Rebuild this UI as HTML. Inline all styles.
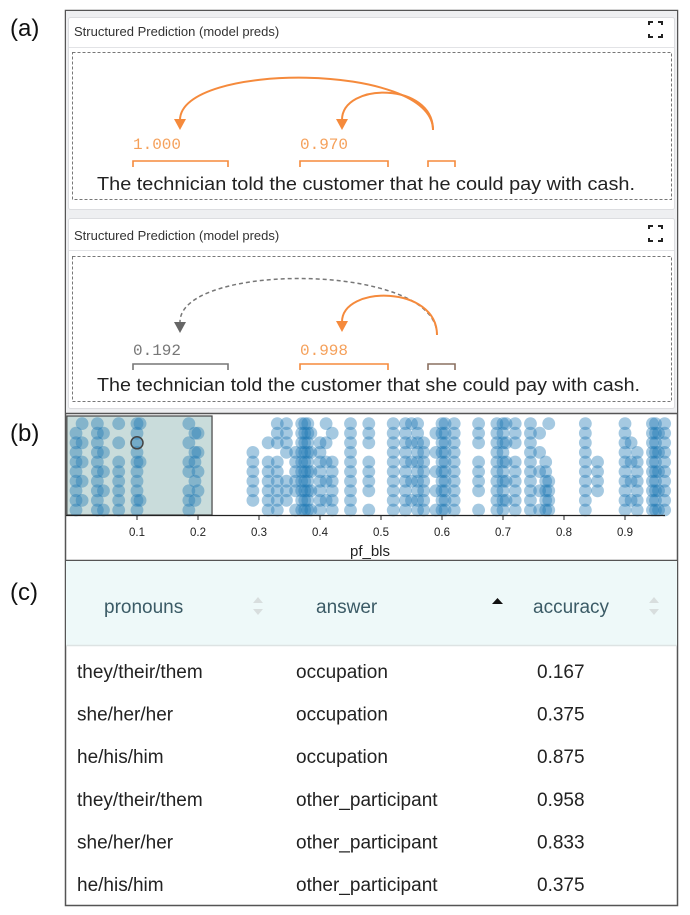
<!DOCTYPE html>
<html><head><meta charset="utf-8"><style>
body{margin:0;background:#fff;width:690px;height:915px;overflow:hidden;font-family:"Liberation Sans",sans-serif}
svg{display:block}
</style></head><body>
<svg id="root" width="690" height="915" viewBox="0 0 690 915">
<g font-size="24" fill="#111">
<text x="10" y="36">(a)</text>
<text x="10" y="441">(b)</text>
<text x="10" y="600">(c)</text>
</g>
<rect x="65.5" y="10.5" width="612" height="895" fill="#fff" stroke="#555" stroke-width="1.5"/>
<rect x="66" y="11" width="611" height="402" fill="#eeeff1"/>
<g>
<rect x="68.5" y="17.5" width="606" height="192" fill="#fff" stroke="#dcdde0" rx="2"/>
<line x1="69" y1="47.5" x2="674" y2="47.5" stroke="#e2e3e6"/>
<text x="74" y="36" font-size="13" fill="#333">Structured Prediction (model preds)</text>
<path d="M649,25v-3h4M658,22h4v3M649,34v3h4M658,37h4v-3" fill="none" stroke="#222" stroke-width="2"/>
<rect x="72.5" y="52.5" width="599" height="147" fill="none" stroke="#777" stroke-dasharray="3,2"/>
<path d="M433,130 C433,62 180,62 180,120" fill="none" stroke="#f58a3c" stroke-width="2"/>
<path d="M174,119h12l-6,11z" fill="#f58a3c"/>
<path d="M433,130 C433,82 342,82 342,120" fill="none" stroke="#f58a3c" stroke-width="2"/>
<path d="M336,119h12l-6,11z" fill="#f58a3c"/>
<g font-family="Liberation Mono,monospace" font-size="16" fill="#f5a05a">
<text x="133" y="149">1.000</text>
<text x="300" y="149">0.970</text>
</g>
<path d="M133,167v-6h95v6M300,167v-6h88v6M428,167v-6h27v6" fill="none" stroke="#f58a3c" stroke-width="1.6"/>
<text x="97" y="190" font-size="18.5" fill="#222" textLength="538" lengthAdjust="spacingAndGlyphs">The technician told the customer that he could pay with cash.</text>
</g>
<g>
<rect x="68.5" y="218.5" width="606" height="190" fill="#fff" stroke="#dcdde0" rx="2"/>
<line x1="69" y1="250.5" x2="674" y2="250.5" stroke="#e2e3e6"/>
<text x="74" y="240" font-size="13" fill="#333">Structured Prediction (model preds)</text>
<path d="M649,229v-3h4M658,226h4v3M649,238v3h4M658,241h4v-3" fill="none" stroke="#222" stroke-width="2"/>
<rect x="72.5" y="256.5" width="599" height="145" fill="none" stroke="#777" stroke-dasharray="3,2"/>
<path d="M437,335 C437,262 180,262 180,322" fill="none" stroke="#777" stroke-width="1.5" stroke-dasharray="4,3"/>
<path d="M174,322h12l-6,11z" fill="#666"/>
<path d="M437,335 C437,285 342,285 342,322" fill="none" stroke="#f58a3c" stroke-width="2"/>
<path d="M336,321h12l-6,11z" fill="#f58a3c"/>
<g font-family="Liberation Mono,monospace" font-size="16">
<text x="133" y="355" fill="#777">0.192</text>
<text x="300" y="355" fill="#f5a05a">0.998</text>
</g>
<path d="M133,370v-6h95v6" fill="none" stroke="#777" stroke-width="1.6"/>
<path d="M300,370v-6h88v6" fill="none" stroke="#f58a3c" stroke-width="1.6"/>
<path d="M428,370v-6h27v6" fill="none" stroke="#8a7060" stroke-width="1.6"/>
<text x="97" y="391" font-size="18.5" fill="#222" textLength="543" lengthAdjust="spacingAndGlyphs">The technician told the customer that she could pay with cash.</text>
</g>
<line x1="66" y1="413.5" x2="677" y2="413.5" stroke="#555" stroke-width="1.5"/>
<g id="scatter"></g>
<line x1="66" y1="560.5" x2="677" y2="560.5" stroke="#555" stroke-width="1.5"/>
<rect x="66" y="561" width="611" height="84" fill="#eef9f9"/>
<line x1="66" y1="645.5" x2="677" y2="645.5" stroke="#dde3e3" stroke-width="1.5"/>
<g font-size="19" fill="#3b5b66">
<text x="104" y="613">pronouns</text>
<text x="316" y="613">answer</text>
<text x="533" y="613">accuracy</text>
</g>
<g fill="#d8dede">
<path d="M253,603h10l-5,-6z M253,609h10l-5,6z"/>
<path d="M649,603h10l-5,-6z M649,609h10l-5,6z"/>
</g>
<path d="M492,604h11l-5.5,-6z" fill="#111"/>
<g id="rows" font-size="19" fill="#222"></g>
</svg>
<script>
// scatter data: x value of each column and y-levels (0 bottom .. 9 top) of points in it
const colX = [0.0,0.01,0.035,0.045,0.07,0.10,0.105,0.185,0.195,0.2,
 0.29,0.315,0.33,0.345,0.36,0.37,0.375,0.38,0.385,0.40,0.41,0.42,0.45,0.48,
 0.52,0.54,0.55,0.56,0.57,0.59,0.60,0.605,0.62,0.66,0.69,0.70,0.705,0.72,0.745,0.76,0.77,0.775,
 0.835,0.855,0.9,0.91,0.92,0.945,0.95,0.955,0.965];
const colLevels = [
 "012345678","13579","0123456789","02468","01234579","012345689","159","0124579","13568","2468",
 "123456","0123457","012345789","1236789","023456","0123456789","0123456789","0123456789","02468","01234567","13579","0123458","0123456789","02345789",
 "0123456789","0123456789","13579","0123456789","01234567","02468","0123456789","0123456789","0123456789","02345789","0123456789","0123456789","13579","012345789","0123456789","02468","012345","01239",
 "0123456789","2345","0123456789","1357","0123456","0123456789","0123456789","02468","0123456789"];
const tickVals = [0.1,0.2,0.3,0.4,0.5,0.6,0.7,0.8,0.9];
const tickLabels = ["0.1","0.2","0.3","0.4","0.5","0.6","0.7","0.8","0.9"];
const brushRange = [-0.015,0.223];
const selectedPoint = [0.10,7];
const xs = v => 76 + 610*v;
const ys = l => 510 - l*9.6;
const NS="http://www.w3.org/2000/svg";
const sc = document.getElementById('scatter');
function mk(t,a){const e=document.createElementNS(NS,t);for(const k in a)e.setAttribute(k,a[k]);return e;}
const br = mk('rect',{x:xs(brushRange[0]),y:416,width:xs(brushRange[1])-xs(brushRange[0]),height:99,fill:'#c9dcdb',stroke:'#444','stroke-width':1.2});


sc.appendChild(br);
colX.forEach((v,i)=>{
  for(const ch of colLevels[i]){
    const c = mk('circle',{cx:xs(v),cy:ys(+ch),r:6.4,fill:'rgba(31,119,180,0.4)'});
    
    
    sc.appendChild(c);
  }
});
const sp = mk('circle',{cx:xs(selectedPoint[0]),cy:ys(selectedPoint[1]),r:6,fill:'rgba(31,119,180,0.5)',stroke:'#444','stroke-width':1.5});


sc.appendChild(sp);
const ax = mk('line',{x1:66,y1:515.5,x2:665,y2:515.5,stroke:'#222','stroke-width':1.2});


sc.appendChild(ax);
tickVals.forEach((v,i)=>{
  const t=mk('line',{x1:xs(v),y1:515,x2:xs(v),y2:520,stroke:'#222'});
  
  
  sc.appendChild(t);
  const tx=mk('text',{x:xs(v),y:536,'text-anchor':'middle','font-size':11.5,fill:'#222'});
  tx.textContent=tickLabels[i];
  
  
  sc.appendChild(tx);
});
const xt=mk('text',{x:370,y:556,'text-anchor':'middle','font-size':15,fill:'#222'});
xt.textContent='pf_bls';


sc.appendChild(xt);
const pronouns=["they/their/them","she/her/her","he/his/him","they/their/them","she/her/her","he/his/him"];
const answers=["occupation","occupation","occupation","other_participant","other_participant","other_participant"];
const accuracy=["0.167","0.375","0.875","0.958","0.833","0.375"];
const rows=document.getElementById('rows');
pronouns.forEach((p,i)=>{
  const y=678+i*42.6;
  const g=mk('g',{});
  
  
  [[77,p],[296,answers[i]],[537,accuracy[i]]].forEach(([x,s])=>{
    const t=mk('text',{x:x,y:y});t.textContent=s;
    
    
    g.appendChild(t);
  });
  rows.appendChild(g);
});
</script>
</body></html>
